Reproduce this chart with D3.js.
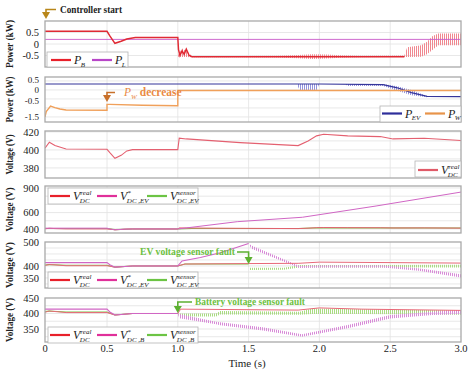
<!DOCTYPE html>
<html>
<head>
<meta charset="utf-8">
<script src="https://d3js.org/d3.v7.min.js"></script>
<style>
body { margin: 0; background: #fff; }
svg text { font-family: "Liberation Serif", "Times New Roman", serif; fill: #222; }
</style>
</head>
<body>
<svg id="chart" width="474" height="373" font-family="Liberation Serif, serif"></svg>
<script>
// time axis
var timeTicks = [0, 0.5, 1.0, 1.5, 2.0, 2.5, 3.0];
var timeLabels = ["0", "0.5", "1.0", "1.5", "2.0", "2.5", "3.0"];

// panel 1 : battery / load power (kW)
var p1Ticks = [0.5, 0, -0.5];
var pbT = [0, 0.5, 0.52, 0.556, 0.6, 0.64, 0.7, 1.0, 1.005, 1.015, 1.03, 1.045, 1.06, 1.08, 1.1, 2.6];
var pbV = [0.55, 0.55, 0.35, 0.03, 0.12, 0.22, 0.28, 0.28, -0.25, -0.5, -0.3, -0.45, -0.22, -0.5, -0.55, -0.55];
var pbBandT = [1.0, 1.03, 1.06, 1.1, 1.4, 1.7, 1.85, 1.95, 2.05, 2.15, 2.3, 2.6, 2.62, 2.72, 2.76, 2.8, 2.84, 3.0];
var pbBandHi = [-0.5, -0.2, -0.3, -0.52, -0.52, -0.51, -0.48, -0.45, -0.46, -0.49, -0.51, -0.5, -0.14, -0.05, 0.1, 0.35, 0.46, 0.46];
var pbBandLo = [-0.55, -0.56, -0.57, -0.58, -0.58, -0.59, -0.62, -0.65, -0.63, -0.6, -0.58, -0.57, -0.56, -0.55, -0.45, -0.25, -0.05, -0.05];
var plT = [0, 3.0];
var plV = [0.2, 0.2];

// panel 2 : EV / wind power (kW)
var p2Ticks = [0.5, 0, -0.5, -1.5];
var pevT = [0, 1.85, 2.0, 2.45, 2.55, 2.65, 2.76, 3.0];
var pevV = [0.33, 0.33, 0.33, 0.3, 0.12, -0.15, -0.36, -0.37];
var pevBandT = [1.84, 1.86, 1.98, 2.0, 2.18, 2.2, 2.45, 2.55, 2.65, 2.76, 2.78];
var pevBandHi = [0.33, 0.33, 0.33, 0.33, 0.33, 0.33, 0.33, 0.2, 0.0, -0.33, -0.37];
var pevBandLo = [0.33, 0.0, 0.0, 0.33, 0.33, 0.22, 0.22, -0.05, -0.3, -0.4, -0.37];
var pwT = [0, 0.01, 0.045, 0.08, 0.12, 0.17, 0.5, 0.5, 0.52, 0.75, 1.0, 1.0, 3.0];
var pwV = [-1.5, -1.2, -0.89, -0.98, -1.06, -1.11, -1.13, -0.8, -0.8, -0.85, -0.88, -0.03, -0.03];

// panel 3 : dc-link voltage (V)
var p3Ticks = [420, 400, 380];
var vrT = [0, 0.035, 0.08, 0.17, 0.5, 0.52, 0.556, 0.6, 0.64, 0.68, 1.0, 1.01, 1.06, 1.44, 1.85, 1.92, 1.98, 2.03, 2.2, 2.43, 2.52, 2.74, 3.0];
var vrV = [402, 408.6, 404.8, 401, 400.7, 397, 390.7, 394, 398.9, 400.3, 400.3, 413, 412.2, 408.1, 404.8, 410, 415.6, 417.4, 415.6, 414.8, 412.2, 413, 410.4];

// panel 4 : EV reference drift (V)
var p4Ticks = [900, 600, 400];
var evRefT = [0, 0.5, 0.52, 0.556, 0.62, 0.68, 1.0, 1.42, 1.88, 2.4, 3.0];
var evRefV = [410, 410, 400, 390, 398, 400, 400, 489, 543, 680, 850];
var evSensT = [0, 0.5, 0.556, 0.68, 1.0, 1.1, 1.85, 2.0, 3.0];
var evSensV = [405, 405, 392, 400, 400, 405, 405, 415, 412];

// panel 5 : EV voltage sensor fault (V)
var p5Ticks = [500, 400, 350];
var m5T = [0, 0.5, 0.52, 0.556, 0.6, 0.68, 1.0, 1.03, 1.16, 1.3, 1.5];
var m5V = [414, 414, 405, 395, 397, 400, 400, 421, 435, 455, 494];
var m5BandT = [1.5, 1.52, 1.86, 2.0, 2.45, 2.7, 3.0];
var m5BandHi = [494, 485, 400, 402, 402, 390, 365];
var m5BandLo = [494, 472, 392, 394, 394, 380, 352];
var r5T = [0, 0.035, 0.17, 0.5, 0.556, 0.68, 1.0, 1.05, 1.5, 1.85, 2.0, 2.5, 3.0];
var r5V = [402, 406, 401, 401, 395, 400, 400, 408, 410, 411, 416, 414, 412];
var g5T = [0, 0.03, 0.17, 0.5, 0.556, 0.68, 1.0, 1.05, 1.5];
var g5V = [404, 406, 403, 403, 395, 400, 400, 408, 408];
var g5BandT = [1.5, 1.505, 1.75, 1.86, 2.3, 3.0];
var g5BandHi = [408, 393, 393, 404, 404, 405];
var g5BandLo = [408, 383, 384, 394, 394, 394];

// panel 6 : battery voltage sensor fault (V)
var p6Ticks = [450, 400, 350];
var m6T = [0, 0.5, 0.52, 0.556, 0.6, 0.68, 1.0];
var m6V = [414, 414, 405, 395, 397, 400, 400];
var m6BandT = [1.0, 1.01, 1.27, 1.3, 1.6, 1.877, 2.2, 2.5, 2.8, 3.0];
var m6BandHi = [400, 398, 373, 372, 356, 333, 363, 395, 406, 411];
var m6BandLo = [400, 385, 365, 362, 345, 325, 352, 384, 395, 398];
var r6T = [0, 0.035, 0.17, 0.5, 0.556, 0.68, 1.0, 1.02, 1.85, 2.0, 2.3, 3.0];
var r6V = [404, 408, 403, 403, 395, 400, 400, 414, 411, 418, 414, 410];
var g6T = [0, 0.03, 0.17, 0.5, 0.556, 0.68, 1.0];
var g6V = [406, 408, 405, 405, 395, 400, 400];
var g6BandT = [1.0, 1.01, 1.27, 1.3, 1.86, 1.95, 2.3, 3.0];
var g6BandHi = [400, 400, 400, 408, 406, 416, 414, 410];
var g6BandLo = [400, 390, 390, 397, 396, 398, 398, 396];

var RED = "#e02a34", MAG = "#d066c4", GRN = "#7cc448", NAVY = "#35359a", ORA = "#f0a05a";

var svg = d3.select("#chart");
var defs = svg.append("defs");

// hatch patterns for the oscillating bands
function hatch(id, color) {
    var p = defs.append("pattern").attr("id", id)
        .attr("patternUnits", "userSpaceOnUse")
        .attr("width", 2).attr("height", 4);
    p.append("line").attr("x1", 0.5).attr("x2", 0.5).attr("y1", 0).attr("y2", 4)
        .attr("stroke", color).attr("stroke-width", 1);
}
hatch("hRed", "#f08890");
hatch("hNavy", "#9494dc");
hatch("hMag", "#d88ad8");
hatch("hGrn", "#a8dc80");

var x = d3.scaleLinear().domain([0, 0.5, 3]).range([45, 107, 461]);

var layout = [
    { top: 21, bot: 67, dom: [-1, 1], ticks: p1Ticks, grid: [-0.5, 0, 0.5], title: "Power (kW)", tl: 48, fs: 10.5 },
    { top: 77, bot: 122, dom: [-1.78, 0.72], ticks: p2Ticks, grid: [-1.5, -1, -0.5, 0, 0.5], title: "Power (kW)", tl: 46, fs: 9 },
    { top: 131, bot: 178, dom: [368.8, 421], ticks: p3Ticks, grid: [380, 390, 400, 410, 420], title: "Voltage (V)", tl: 40, fs: 10.5 },
    { top: 186, bot: 233, dom: [351, 924], ticks: p4Ticks, grid: [400, 500, 600, 700, 800, 900], title: "Voltage (V)", tl: 44, fs: 10.5 },
    { top: 242, bot: 288, dom: [308, 500], ticks: p5Ticks, grid: [325, 350, 375, 400, 425, 450, 475], title: "Voltage (V)", tl: 46, fs: 10.5 },
    { top: 298, bot: 342, dom: [308, 450], ticks: p6Ticks, grid: [325, 350, 375, 400, 425], title: "Voltage (V)", tl: 44, fs: 10.5 }
];

var panels = layout.map(function (p, i) {
    var y = d3.scaleLinear().domain(p.dom).range([p.bot, p.top]);
    defs.append("clipPath").attr("id", "clip" + i)
        .append("rect").attr("x", 45).attr("y", p.top).attr("width", 416).attr("height", p.bot - p.top);

    svg.append("rect").attr("x", 45).attr("y", p.top).attr("width", 416).attr("height", p.bot - p.top)
        .attr("fill", "#fff");

    var grid = svg.append("g").attr("stroke", "#e2e2e2").attr("stroke-width", 0.8);
    p.grid.forEach(function (v) {
        grid.append("line").attr("x1", 45).attr("x2", 461).attr("y1", y(v)).attr("y2", y(v));
    });
    timeTicks.slice(1, -1).forEach(function (t) {
        grid.append("line").attr("x1", x(t)).attr("x2", x(t)).attr("y1", p.top).attr("y2", p.bot);
    });

    // small nudge keeps the crowded power labels apart
    var nudge = i === 1 ? { "0.5": -1.6, "-0.5": 1.6 } : {};
    svg.append("g").selectAll("text").data(p.ticks).join("text")
        .attr("x", 39).attr("y", function (d) { return y(d) + (nudge[d] || 0); })
        .attr("dy", "0.35em").attr("text-anchor", "end")
        .attr("font-size", p.fs)
        .text(function (d) { return d; });

    var cy = (p.top + p.bot) / 2;
    svg.append("text")
        .attr("transform", "translate(13," + cy + ") rotate(-90)")
        .attr("text-anchor", "middle").attr("font-weight", "bold").attr("font-size", 10.5)
        .attr("textLength", p.tl).attr("lengthAdjust", "spacingAndGlyphs")
        .text(p.title);

    var g = svg.append("g").attr("clip-path", "url(#clip" + i + ")");
    return { g: g, y: y, top: p.top, bot: p.bot };
});

function band(pn, ts, hi, lo, pat) {
    var a = d3.area()
        .x(function (d, i) { return x(ts[i]); })
        .y0(function (d, i) { return pn.y(lo[i]); })
        .y1(function (d, i) { return pn.y(hi[i]); });
    pn.g.append("path").attr("d", a(ts)).attr("fill", "url(#" + pat + ")");
}

function line(pn, ts, vs, color, w) {
    var l = d3.line()
        .x(function (d, i) { return x(ts[i]); })
        .y(function (d, i) { return pn.y(vs[i]); });
    pn.g.append("path").attr("d", l(ts)).attr("fill", "none")
        .attr("stroke", color).attr("stroke-width", w || 1.1);
}

// panel 1
band(panels[0], pbBandT, pbBandHi, pbBandLo, "hRed");
line(panels[0], plT, plV, "#c85ac8", 0.9);
line(panels[0], pbT, pbV, RED, 1.5);

// panel 2
band(panels[1], pevBandT, pevBandHi, pevBandLo, "hNavy");
line(panels[1], pevT, pevV, NAVY, 1.2);
line(panels[1], pwT, pwV, ORA, 1.4);

// panel 3
line(panels[2], vrT, vrV, "#e46070", 1.1);

// panel 4
line(panels[3], evSensT, evSensV, GRN, 1.1);
line(panels[3], vrT, vrV, "#e46070", 1);
line(panels[3], evRefT, evRefV, MAG, 1);

// panel 5
band(panels[4], g5BandT, g5BandHi, g5BandLo, "hGrn");
band(panels[4], m5BandT, m5BandHi, m5BandLo, "hMag");
line(panels[4], g5T, g5V, GRN, 1.1);
line(panels[4], r5T, r5V, "#e86878", 1);
line(panels[4], m5T, m5V, MAG, 1.1);

// panel 6
band(panels[5], g6BandT, g6BandHi, g6BandLo, "hGrn");
band(panels[5], m6BandT, m6BandHi, m6BandLo, "hMag");
line(panels[5], g6T, g6V, GRN, 1.1);
line(panels[5], r6T, r6V, "#e86878", 1);
line(panels[5], m6T, m6V, MAG, 1.1);

// frames
layout.forEach(function (p) {
    svg.append("rect").attr("x", 45).attr("y", p.top).attr("width", 416).attr("height", p.bot - p.top)
        .attr("fill", "none").attr("stroke", "#a9a9a9").attr("stroke-width", 1.3);
});

// legends
function legendBox(x0, y0, w, h) {
    svg.append("rect").attr("x", x0).attr("y", y0).attr("width", w).attr("height", h)
        .attr("fill", "#fff").attr("stroke", "#b4b4b4").attr("stroke-width", 0.8);
}
function entry(x0, y0, color, main, sub, sup) {
    svg.append("line").attr("x1", x0).attr("x2", x0 + 20).attr("y1", y0).attr("y2", y0)
        .attr("stroke", color).attr("stroke-width", 2.2);
    var t = svg.append("text").attr("x", x0 + 23).attr("y", y0 + 4)
        .attr("font-style", "italic").attr("font-size", 12).text(main);
    var w = t.node().getComputedTextLength();
    if (sub) svg.append("text").attr("x", x0 + 22.5 + w).attr("y", y0 + 6.5)
        .attr("font-style", "italic").attr("font-size", 7).text(sub);
    if (sup) svg.append("text").attr("x", x0 + 23 + w).attr("y", y0 - 1)
        .attr("font-style", "italic").attr("font-size", 7).text(sup);
}

legendBox(47, 52, 81, 15);
entry(51, 60, "#e8202a", "P", "B");
entry(92, 60, "#b846c8", "P", "L");

legendBox(380, 106, 81, 16);
entry(382, 113.5, "#2e2e9a", "P", "EV");
entry(425, 113.5, "#e8944a", "P", "W");

legendBox(415, 161, 46, 16);
entry(418, 170, "#e05a68", "V", "DC", "real");

[[188, 196], [272, 280], [327, 335]].forEach(function (r, i) {
    legendBox(48, r[0], 150, 16);
    var s = i === 2 ? "DC ,B" : "DC ,EV";
    entry(50, r[1], "#e8202a", "V", "DC", "real");
    entry(97, r[1], "#e0309a", "V", s, "*");
    entry(147, r[1], "#6cc444", "V", s, "sensor");
});

// time axis labels
svg.append("g").selectAll("text").data(timeTicks).join("text")
    .attr("x", function (d) { return x(d); }).attr("y", 352)
    .attr("text-anchor", "middle").attr("font-size", 10.5)
    .text(function (d, i) { return timeLabels[i]; });
svg.append("text").attr("x", 247).attr("y", 367).attr("text-anchor", "middle")
    .attr("font-size", 11).text("Time (s)");

// annotations
function arrow(pts, tip, color) {
    svg.append("polyline").attr("points", pts.map(function (p) { return p.join(","); }).join(" "))
        .attr("fill", "none").attr("stroke", color).attr("stroke-width", 1.6);
    svg.append("polygon").attr("points",
        [[tip[0] - 4, tip[1] - 7], [tip[0] + 4, tip[1] - 7], tip].map(function (p) { return p.join(","); }).join(" "))
        .attr("fill", color);
}

arrow([[56, 9.5], [x(0) + 1, 9.5], [x(0) + 1, 13]], [x(0) + 1, 19], "#b8861a");
svg.append("text").attr("x", 60).attr("y", 13).attr("font-weight", "bold").attr("font-size", 11)
    .attr("textLength", 62).attr("lengthAdjust", "spacingAndGlyphs").text("Controller start");

arrow([[115, 92.5], [x(0.5), 92.5], [x(0.5), 96]], [x(0.5), 102], "#c8702a");
var pwd = svg.append("text").attr("x", 124).attr("y", 96).attr("font-size", 11.5)
    .style("fill", "#ea8a44").attr("font-weight", "bold");
pwd.append("tspan").attr("font-style", "italic").attr("font-weight", "normal").text("P");
pwd.append("tspan").attr("font-style", "italic").attr("font-weight", "normal")
    .attr("font-size", 7).attr("dy", 2.5).text("W");
pwd.append("tspan").attr("dy", -2.5).text(" decrease");

arrow([[237, 252], [x(1.5), 252], [x(1.5), 257]], [x(1.5), 264], "#5cb030");
svg.append("text").attr("x", 140).attr("y", 255).attr("font-weight", "bold").attr("font-size", 11)
    .style("fill", "#6cc040")
    .attr("textLength", 95).attr("lengthAdjust", "spacingAndGlyphs").text("EV voltage sensor fault");

arrow([[192, 302], [x(1.0), 302], [x(1.0), 306]], [x(1.0), 313], "#5cb030");
svg.append("text").attr("x", 195).attr("y", 305).attr("font-weight", "bold").attr("font-size", 11)
    .style("fill", "#6cc040")
    .attr("textLength", 110).attr("lengthAdjust", "spacingAndGlyphs").text("Battery voltage sensor fault");
</script>
</body>
</html>
